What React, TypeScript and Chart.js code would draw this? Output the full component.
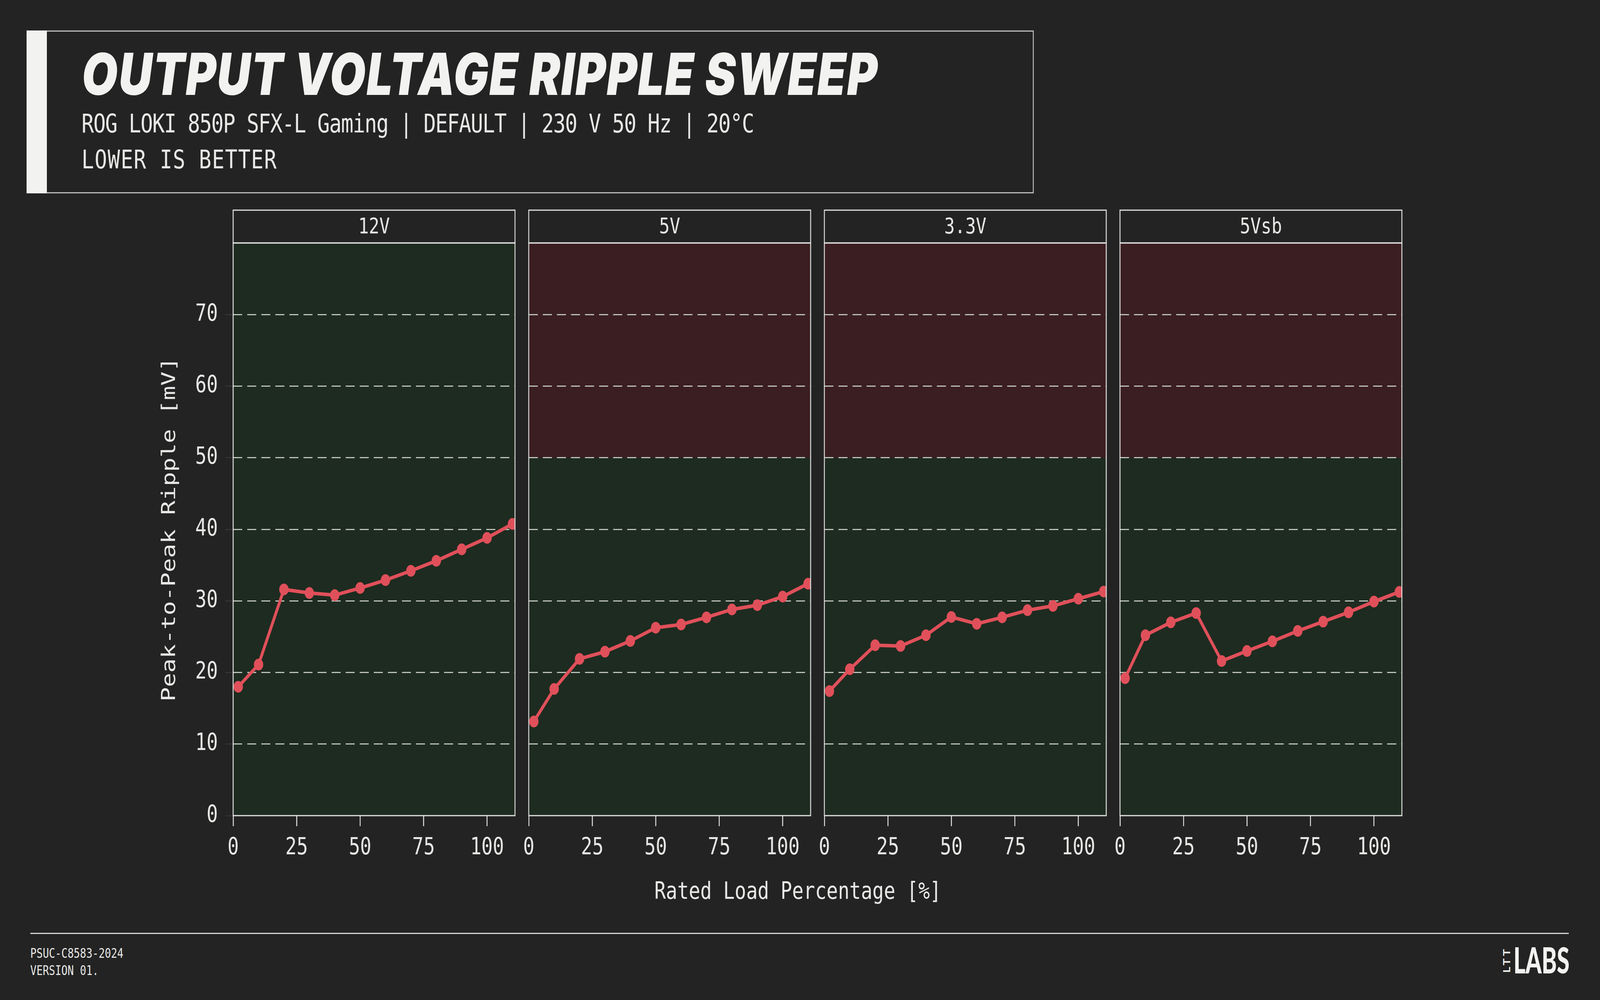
import React, { useEffect, useRef } from 'react';
import { Chart, registerables } from 'chart.js';

Chart.register(...registerables);

// ---------------- data ----------------
const LOADS = [2, 10, 20, 30, 40, 50, 60, 70, 80, 90, 100, 110];
const RAIL_NAMES = ['12V', '5V', '3.3V', '5Vsb'];
const RIPPLE_12V = [18.0, 21.1, 31.6, 31.1, 30.8, 31.8, 32.9, 34.2, 35.6, 37.2, 38.8, 40.75];
const RIPPLE_5V = [13.15, 17.7, 21.9, 22.9, 24.4, 26.25, 26.7, 27.7, 28.8, 29.4, 30.6, 32.4];
const RIPPLE_3V3 = [17.4, 20.45, 23.8, 23.7, 25.2, 27.75, 26.8, 27.7, 28.7, 29.3, 30.3, 31.3];
const RIPPLE_5VSB = [19.2, 25.2, 27.0, 28.3, 21.6, 23.0, 24.35, 25.8, 27.1, 28.4, 29.9, 31.25];
const SERIES = [RIPPLE_12V, RIPPLE_5V, RIPPLE_3V3, RIPPLE_5VSB];
const RIPPLE_LIMITS = [120, 50, 50, 50];
const X_TICKS = [0, 25, 50, 75, 100];
const Y_TICKS = [0, 10, 20, 30, 40, 50, 60, 70];
const X_RANGE = [0, 111];
const Y_RANGE = [0, 80];

const TITLE = 'OUTPUT VOLTAGE RIPPLE SWEEP';
const SUBTITLE = 'ROG LOKI 850P SFX-L Gaming | DEFAULT | 230 V 50 Hz | 20°C';
const NOTE = 'LOWER IS BETTER';
const Y_TITLE = 'Peak-to-Peak Ripple [mV]';
const X_TITLE = 'Rated Load Percentage [%]';
const FOOT_1 = 'PSUC-C8583-2024';
const FOOT_2 = 'VERSION 01.';

// ---------------- style ----------------
const BG = '#232323';
const GREEN = '#1e2b20';
const RED = '#3b1e21';
const LINE = '#e0505a';
const FRAME = '#e2e2e2';
const TEXT = '#e8e8e6';
const GRID = '#bcc2ba';
const MONO = "'DejaVu Sans Mono', 'Liberation Mono', monospace";

const PAGE_W = 5120;
const PAGE_H = 2560;

const L = {
  canvasTop: 500,
  yAxisW: 300,
  plotW: 902,
  padRight: 30,
  padTop: 122,
  xAxisH: 150,
  stripTop: 38,
  firstLeft: 746,
  step: 946,
};
const CANVAS_W = L.yAxisW + L.plotW + L.padRight;
const CANVAS_H = 1738;

function makeConfig(i: number): any {
  const values = SERIES[i];
  const data = LOADS.map((x, k) => ({ x, y: values[k] }));
  const first = i === 0;

  const panelPlugin = {
    id: 'panel' + i,
    beforeDraw(chart: any) {
      const { ctx, chartArea: a, scales } = chart;
      const lim = RIPPLE_LIMITS[i];
      let limPx = scales.y.getPixelForValue(lim);
      limPx = Math.max(a.top, Math.min(a.bottom, limPx));
      ctx.save();
      ctx.fillStyle = GREEN;
      ctx.fillRect(a.left, limPx, a.right - a.left, a.bottom - limPx);
      if (limPx > a.top) {
        ctx.fillStyle = RED;
        ctx.fillRect(a.left, a.top, a.right - a.left, limPx - a.top);
      }
      ctx.restore();
    },
    afterDraw(chart: any) {
      const { ctx, chartArea: a } = chart;
      ctx.save();
      ctx.strokeStyle = FRAME;
      ctx.lineWidth = 3;
      ctx.strokeRect(a.left, a.top, a.right - a.left, a.bottom - a.top);
      ctx.strokeRect(a.left, L.stripTop, a.right - a.left, a.top - L.stripTop);
      ctx.fillStyle = TEXT;
      ctx.font = `56px ${MONO}`;
      ctx.textAlign = 'center';
      ctx.textBaseline = 'middle';
      ctx.fillText(RAIL_NAMES[i], (a.left + a.right) / 2, (L.stripTop + a.top) / 2 + 2);
      ctx.restore();
    },
  };

  return {
    type: 'line',
    data: {
      datasets: [
        {
          label: RAIL_NAMES[i],
          data,
          borderColor: LINE,
          backgroundColor: LINE,
          borderWidth: 9,
          pointRadius: 15,
          pointBorderWidth: 0,
          pointBackgroundColor: LINE,
          tension: 0,
        },
      ],
    },
    options: {
      animation: false,
      responsive: false,
      devicePixelRatio: 1,
      layout: { padding: { top: L.padTop, right: L.padRight, left: 0, bottom: 0 } },
      plugins: { legend: { display: false }, tooltip: { enabled: false }, title: { display: false } },
      scales: {
        x: {
          type: 'linear',
          min: X_RANGE[0],
          max: X_RANGE[1],
          afterBuildTicks: (s: any) => {
            s.ticks = X_TICKS.map((v) => ({ value: v }));
          },
          afterFit: (s: any) => {
            s.height = L.xAxisH;
          },
          grid: {
            display: true,
            drawOnChartArea: false,
            drawTicks: true,
            tickLength: 27,
            tickWidth: 3,
            tickColor: FRAME,
          },
          border: { display: false },
          ticks: {
            autoSkip: false,
            maxRotation: 0,
            padding: 20,
            color: TEXT,
            font: { family: MONO, size: 60 },
          },
        },
        y: {
          type: 'linear',
          min: Y_RANGE[0],
          max: Y_RANGE[1],
          afterBuildTicks: (s: any) => {
            s.ticks = Y_TICKS.map((v) => ({ value: v }));
          },
          afterFit: (s: any) => {
            s.width = L.yAxisW;
          },
          grid: {
            display: true,
            drawOnChartArea: true,
            drawTicks: first,
            tickLength: 25,
            tickWidth: 2,
            tickColor: '#3b3b3b',
            lineWidth: 3,
            color: (c: any) => (c.tick && c.tick.value === 0 ? 'rgba(0,0,0,0)' : GRID),
          },
          border: { display: false, dash: [29, 16], dashOffset: 0 },
          ticks: {
            display: first,
            padding: 24,
            color: TEXT,
            font: { family: MONO, size: 60 },
          },
          title: {
            display: first,
            text: Y_TITLE,
            color: TEXT,
            font: { family: MONO, size: 61 },
            padding: { top: 62, bottom: 0 },
          },
        },
      },
    },
    plugins: [panelPlugin],
  };
}

function Panel({ index }: { index: number }) {
  const ref = useRef<HTMLCanvasElement | null>(null);
  useEffect(() => {
    if (!ref.current) return;
    const chart = new Chart(ref.current, makeConfig(index));
    return () => chart.destroy();
  }, [index]);
  const left = L.firstLeft + index * L.step - L.yAxisW;
  return (
    <canvas
      ref={ref}
      width={CANVAS_W}
      height={CANVAS_H}
      style={{ position: 'absolute', left, top: L.canvasTop, width: CANVAS_W, height: CANVAS_H }}
    />
  );
}

export default function App() {
  useEffect(() => {
    document.body.style.margin = '0';
    document.body.style.background = BG;
    document.body.style.overflow = 'hidden';
  }, []);
  const vw = typeof window !== 'undefined' ? window.innerWidth : PAGE_W;
  const vh = typeof window !== 'undefined' ? window.innerHeight : PAGE_H;
  const sx = vw / PAGE_W || 1;
  const sy = vh / PAGE_H || 1;
  const abs: React.CSSProperties = { position: 'absolute', margin: 0, whiteSpace: 'pre' };
  return (
    <div style={{ position: 'fixed', left: 0, top: 0, width: vw, height: vh, overflow: 'hidden', background: BG }}>
      <div
        style={{
          position: 'absolute',
          left: 0,
          top: 0,
          width: PAGE_W,
          height: PAGE_H,
          background: BG,
          overflow: 'hidden',
          transform: `scale(${sx}, ${sy})`,
          transformOrigin: '0 0',
        }}
      >
        {/* header box */}
        <div style={{ ...abs, left: 85, top: 78, width: 3223, height: 417, border: '3px solid #bdbdbb', boxSizing: 'border-box' }} />
        <div style={{ ...abs, left: 85, top: 78, width: 65, height: 417, background: '#f2f2f0' }} />
        <div
          style={{
            ...abs,
            left: 262,
            top: 116,
            fontFamily: "Inter, Lato, 'Open Sans', sans-serif",
            fontWeight: 900,
            fontStyle: 'italic',
            fontSize: 148,
            lineHeight: '148px',
            color: '#f2f2f0',
            letterSpacing: 3,
          }}
        >
          {TITLE}
        </div>
        <div
          style={{ ...abs, left: 261, top: 284, fontFamily: MONO, fontSize: 66, lineHeight: '66px', color: TEXT, letterSpacing: -2 }}
        >
          {SUBTITLE}
        </div>
        <div
          style={{ ...abs, left: 261, top: 376, fontFamily: MONO, fontSize: 66, lineHeight: '66px', color: TEXT, letterSpacing: 2 }}
        >
          {NOTE}
        </div>

        {/* charts */}
        {RAIL_NAMES.map((_, i) => (
          <Panel key={i} index={i} />
        ))}

        {/* x axis title */}
        <div
          style={{
            ...abs,
            left: 2553,
            top: 2279,
            transform: 'translate(-50%, -50%)',
            fontFamily: MONO,
            fontSize: 61,
            lineHeight: '61px',
            color: TEXT,
          }}
        >
          {X_TITLE}
        </div>

        {/* footer */}
        <div style={{ ...abs, left: 97, top: 2388, width: 4923, height: 3, background: '#d6d6d4' }} />
        <div style={{ ...abs, left: 97, top: 2424, fontFamily: MONO, fontSize: 33, lineHeight: '33px', color: TEXT }}>
          {FOOT_1}
        </div>
        <div style={{ ...abs, left: 97, top: 2468, fontFamily: MONO, fontSize: 33, lineHeight: '33px', color: TEXT }}>
          {FOOT_2}
        </div>

        {/* logo */}
        <div
          style={{
            ...abs,
            left: 4821,
            top: 2457,
            transform: 'translate(-50%, -50%) rotate(-90deg)',
            fontFamily: 'Lato, sans-serif',
            fontWeight: 700,
            fontSize: 30,
            lineHeight: '30px',
            letterSpacing: 6,
            color: '#f2f2f0',
          }}
        >
          LTT
        </div>
        <div
          style={{
            ...abs,
            left: 4843,
            top: 2411,
            transform: 'scaleX(0.8)',
            transformOrigin: 'left top',
            fontFamily: 'Lato, sans-serif',
            fontWeight: 900,
            fontSize: 92,
            lineHeight: '92px',
            color: '#f2f2f0',
          }}
        >
          LABS
        </div>
      </div>
    </div>
  );
}
